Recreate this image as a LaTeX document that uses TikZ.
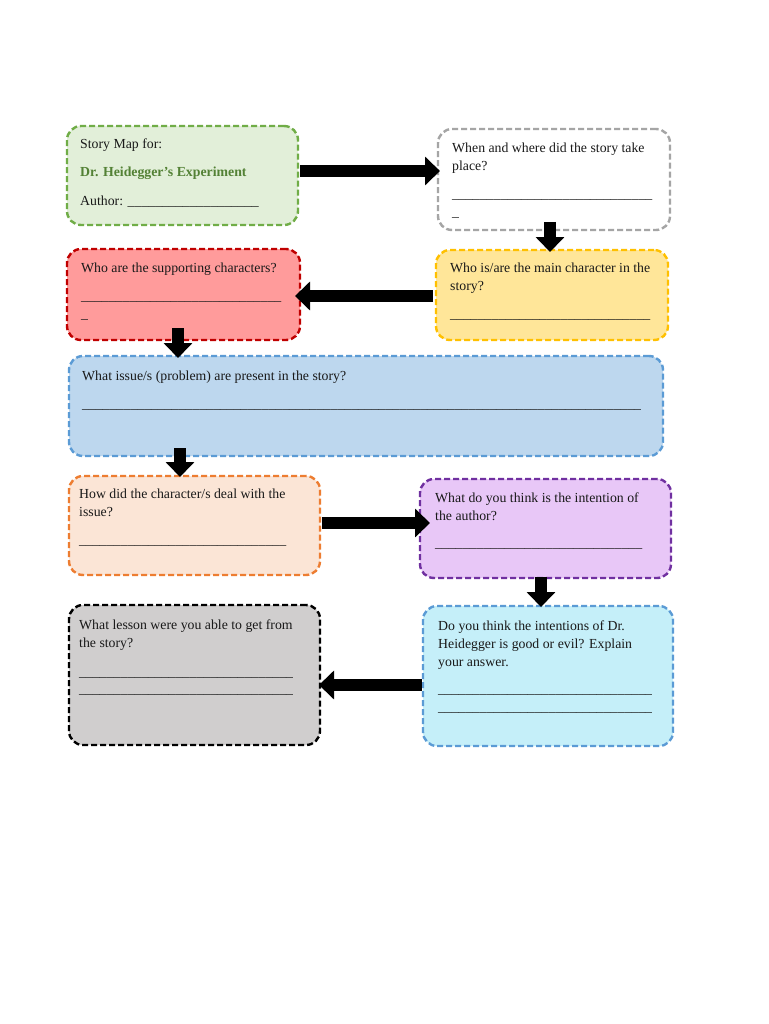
\documentclass[tikz,border=0pt]{standalone}
\usepackage{fontspec}
\setmainfont{Liberation Serif}
\usetikzlibrary{arrows.meta}
\definecolor{gfill}{HTML}{E2EFD9}\definecolor{gdraw}{HTML}{70AD47}
\definecolor{wdraw}{HTML}{A5A5A5}
\definecolor{rfill}{HTML}{FF9B9B}\definecolor{rdraw}{HTML}{C00000}
\definecolor{yfill}{HTML}{FFE699}\definecolor{ydraw}{HTML}{FFC000}
\definecolor{bfill}{HTML}{BDD7EE}\definecolor{bdraw}{HTML}{5B9BD5}
\definecolor{ofill}{HTML}{FBE5D6}\definecolor{odraw}{HTML}{ED7D31}
\definecolor{pfill}{HTML}{E8C7F7}\definecolor{pdraw}{HTML}{7030A0}
\definecolor{kfill}{HTML}{D0CECE}
\definecolor{cfill}{HTML}{C5EFF9}
\definecolor{titlegreen}{HTML}{538135}
\newcommand\uscore[1]{\foreach \i in {1,...,#1}{\_}}
\begin{document}
\begin{tikzpicture}[x=1pt,y=-1pt,
  box/.style={draw, line width=2.4pt, dash pattern=on 6pt off 3pt, rounded corners=14pt, anchor=north west, inner sep=0pt, outer sep=0pt},
  txt/.style={anchor=base west, inner sep=0pt, yshift=-1.5pt, font=\fontsize{13.8}{18}\selectfont, text=black!90},
  blockarrow/.style={line width=12pt, -{Triangle[length=15pt,width=28pt]}}]
\useasboundingbox (0,0) rectangle (768,1024);
\fill[white] (0,0) rectangle (768,1024);
% boxes
\node[box, fill=gfill, draw=gdraw, minimum width=231pt, minimum height=99pt] (b1) at (67,126) {};
\node[box, fill=white, draw=wdraw, minimum width=232pt, minimum height=101pt] (b2) at (438,129) {};
\node[box, fill=rfill, draw=rdraw, minimum width=233pt, minimum height=91pt] (b3) at (67,249) {};
\node[box, fill=yfill, draw=ydraw, minimum width=232pt, minimum height=90pt] (b4) at (436,250) {};
\node[box, fill=bfill, draw=bdraw, minimum width=594pt, minimum height=100pt] (b5) at (69,356) {};
\node[box, fill=ofill, draw=odraw, minimum width=251pt, minimum height=99pt] (b6) at (69,476) {};
\node[box, fill=pfill, draw=pdraw, minimum width=251pt, minimum height=99pt] (b7) at (420,479) {};
\node[box, fill=kfill, draw=black, minimum width=251pt, minimum height=140pt] (b8) at (69,605) {};
\node[box, fill=cfill, draw=bdraw, minimum width=250pt, minimum height=140pt] (b9) at (423,606) {};
% texts box 1
\node[txt] (t1a) at (80,147) {Story Map for:};
\node[txt, text=titlegreen, font=\fontsize{13.8}{18}\selectfont\bfseries] (t1b) at (80,175) {Dr. Heidegger's Experiment};
\node[txt] (t1c) at (80,204) {Author: \uscore{19}};
% box 2
\node[txt] (t2a) at (452,151) {When and where did the story take};
\node[txt] (t2b) at (452,169) {place?};
\node[txt] (t2c) at (452,197) {\uscore{29}};
\node[txt] (t2d) at (452,215) {\_};
% box 3
\node[txt] (t3a) at (81,271) {Who are the supporting characters?};
\node[txt] (t3b) at (81,299) {\uscore{29}};
\node[txt] (t3c) at (81,317) {\_};
% box 4
\node[txt] (t4a) at (450,271) {Who is/are the main character in the};
\node[txt] (t4b) at (450,289) {story?};
\node[txt] (t4c) at (450,317) {\uscore{29}};
% box 5
\node[txt] (t5a) at (82,379) {What issue/s (problem) are present in the story?};
\node[txt] (t5b) at (82,407) {\uscore{81}};
% box 6
\node[txt] (t6a) at (79,497) {How did the character/s deal with the};
\node[txt] (t6b) at (79,515) {issue?};
\node[txt] (t6c) at (79,543) {\uscore{30}};
% box 7
\node[txt] (t7a) at (435,501) {What do you think is the intention of};
\node[txt] (t7b) at (435,519) {the author?};
\node[txt] (t7c) at (435,546) {\uscore{30}};
% box 8
\node[txt] (t8a) at (79,628) {What lesson were you able to get from};
\node[txt] (t8b) at (79,646) {the story?};
\node[txt] (t8c) at (79,675) {\uscore{31}};
\node[txt] (t8d) at (79,692) {\uscore{31}};
% box 9
\node[txt] (t9a) at (438,629) {Do you think the intentions of Dr.};
\node[txt] (t9b) at (438,647) {Heidegger is good or evil? Explain};
\node[txt] (t9c) at (438,665) {your answer.};
\node[txt] (t9d) at (438,692) {\uscore{31}};
\node[txt] (t9e) at (438,710) {\uscore{31}};
% arrows
\draw[blockarrow, shorten <=2pt, shorten >=-2pt] (b1.east |- 0,171) -- (b2.west |- 0,171);
\draw[blockarrow, shorten <=-8pt, shorten >=-2pt] (b2.south -| 550,0) -- (b4.north -| 550,0);
\draw[blockarrow, shorten <=3pt, shorten >=-5pt] (b4.west |- 0,296) -- (b3.east |- 0,296);
\draw[blockarrow, shorten <=-12pt, shorten >=-2pt] (b3.south -| 178,0) -- (b5.north -| 178,0);
\draw[blockarrow, shorten <=-8pt, shorten >=-1pt] (b5.south -| 180,0) -- (b6.north -| 180,0);
\draw[blockarrow, shorten <=2pt, shorten >=-10pt] (b6.east |- 0,523) -- (b7.west |- 0,523);
\draw[blockarrow, shorten <=-1pt, shorten >=-1pt] (b7.south -| 541,0) -- (b9.north -| 541,0);
\draw[blockarrow, shorten <=1pt, shorten >=-1pt] (b9.west |- 0,685) -- (b8.east |- 0,685);
\end{tikzpicture}
\end{document}
